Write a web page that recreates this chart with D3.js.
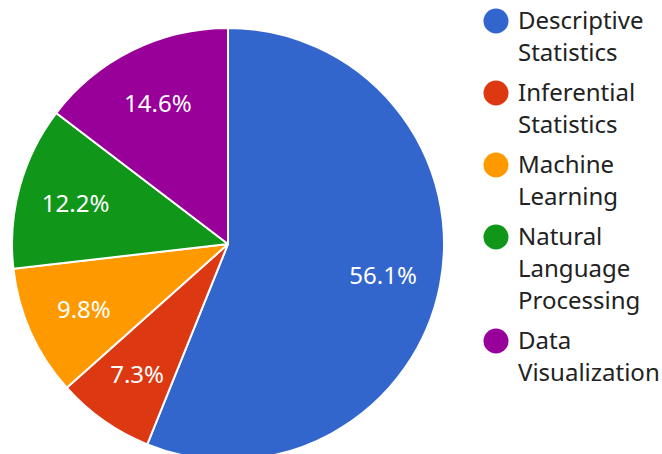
<!DOCTYPE html>
<html>
<head>
<meta charset="utf-8">
<script src="https://cdn.jsdelivr.net/npm/d3@7"></script>
<style>
  body { margin: 0; background: #fff; }
  text { font-family: "Noto Sans", sans-serif; }
</style>
</head>
<body>
<div id="chart"></div>
<script>
const categories = ["Descriptive Statistics", "Inferential Statistics", "Machine Learning", "Natural Language Processing", "Data Visualization"];
const legendLines = [["Descriptive", "Statistics"], ["Inferential", "Statistics"], ["Machine", "Learning"], ["Natural", "Language", "Processing"], ["Data", "Visualization"]];
const counts = [23, 3, 4, 5, 6];
const colors = ["#3366cc", "#dc3912", "#ff9900", "#109618", "#990099"];

const width = 662, height = 454,
  cx = 228, cy = 244,
  radius = 216,
  labelRadius = 158;

const svg = d3.select("#chart")
  .append("svg")
  .attr("width", width)
  .attr("height", height);

const total = d3.sum(counts);
const data = categories.map((c, i) => ({ name: c, count: counts[i], color: colors[i] }));

const arcs = d3.pie().sort(null).value(d => d.count)(data);
const arc = d3.arc().innerRadius(0).outerRadius(radius);
const arcLabel = d3.arc().innerRadius(labelRadius).outerRadius(labelRadius);

const g = svg.append("g").attr("transform", `translate(${cx},${cy})`);

g.selectAll("path")
  .data(arcs)
  .join("path")
  .attr("fill", d => d.data.color)
  .attr("stroke", "white")
  .attr("stroke-width", 2)
  .attr("stroke-linejoin", "round")
  .attr("d", arc);

g.selectAll("text")
  .data(arcs)
  .join("text")
  .attr("transform", d => `translate(${arcLabel.centroid(d)})`)
  .attr("text-anchor", "middle")
  .attr("dominant-baseline", "central")
  .attr("fill", "white")
  .attr("font-size", 24)
  .text(d => (d.data.count / total * 100).toFixed(1) + "%");

// legend
const legend = svg.append("g");
let y = 21;
legendLines.forEach((lines, i) => {
  const item = legend.append("g").attr("transform", `translate(0,${y})`);
  item.append("circle")
    .attr("cx", 496)
    .attr("cy", 0)
    .attr("r", 12.5)
    .attr("fill", colors[i]);
  item.append("text")
    .attr("x", 518)
    .attr("y", 0)
    .attr("fill", "#222")
    .attr("font-size", 24)
    .selectAll("tspan")
    .data(lines)
    .join("tspan")
    .attr("x", 518)
    .attr("y", (d, j) => j * 32 + 8)
    .text(d => d);
  y += lines.length * 32 + 8;
});
</script>
</body>
</html>
